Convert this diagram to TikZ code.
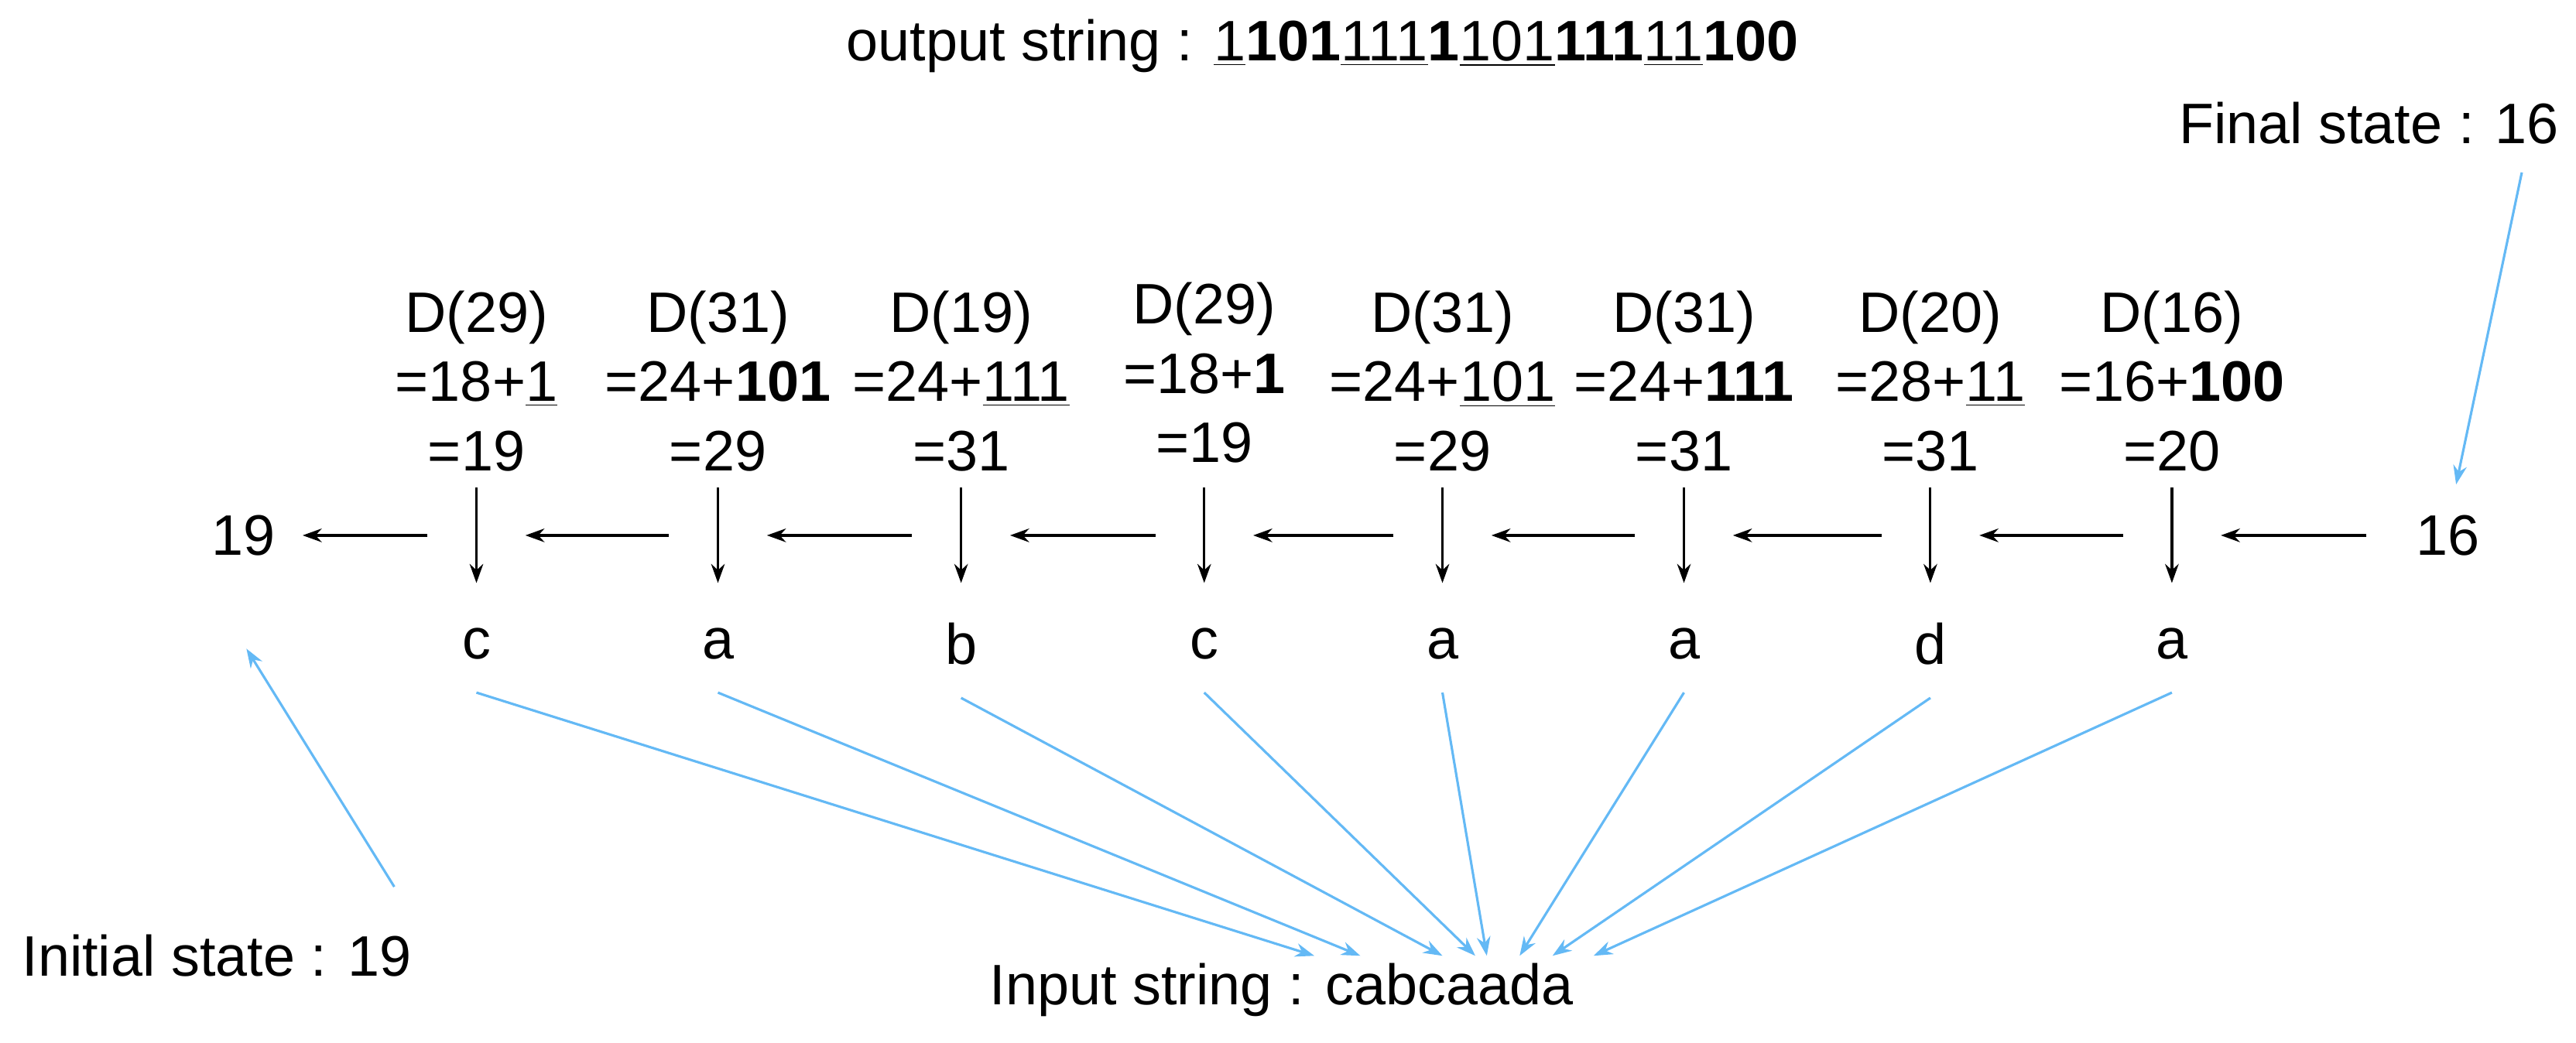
\documentclass[tikz,border=0pt]{standalone}
\usepackage{fontspec}
\setmainfont{Liberation Sans}
\usetikzlibrary{arrows.meta}
\begin{document}
\begin{tikzpicture}[x=0.02122cm,y=-0.02122cm,
  txt/.style={font=\fontsize{21}{25.5}\selectfont,inner sep=0pt,align=center},
  blk/.style={-{Stealth[length=7pt,width=5pt]},line width=0.9pt},
  blu/.style={-{Stealth[length=7pt,width=5pt]},line width=0.9pt,draw={rgb,255:red,100;green,185;blue,245}}]
\useasboundingbox (0,0) rectangle (1568,635);
\newcommand{\U}[1]{\underline{#1}}
\newcommand{\B}[1]{\textbf{#1}}
\node[txt] (out) at (805,28) {output string : \U{1}\B{101}\U{111}\B{1}\U{101}\B{111}\U{11}\B{100}};
\node[txt] (fin) at (1442,75) {Final state : 16};
\node[txt] (ini) at (132,582) {Initial state : 19};
\node[txt] (inp) at (780,603) {Input string : cabcaada};
\node[txt] (s19) at (148,326) {19};
\node[txt] (s16) at (1490,326) {16};
\foreach \i/\x/\dy/\t/\l in {
 1/290/0/{D(29)\\=18+\U{1}\\=19}/c,
 2/437/0/{D(31)\\=24+\B{101}\\=29}/a,
 3/585/0/{D(19)\\=24+\U{111}\\=31}/b,
 4/733/-5/{D(29)\\=18+\B{1}\\=19}/c,
 5/878/0/{D(31)\\=24+\U{101}\\=29}/a,
 6/1025/0/{D(31)\\=24+\B{111}\\=31}/a,
 7/1175/0/{D(20)\\=28+\U{11}\\=31}/d,
 8/1322/0/{D(16)\\=16+\B{100}\\=20}/a}{
  \node[txt] (d\i) at (\x,232+\dy) {\t};
  \coordinate (t\i) at (\x,297);
  \coordinate (b\i) at (\x,355);
  \node[txt] (l\i) at (\x,392) {\l};
  \draw[blk] (t\i) -- (b\i);
}
\draw[blk] ([xshift=-18]s16.west) -- ([xshift=18]b8 |- s16);
\foreach \a/\b in {8/7,7/6,6/5,5/4,4/3,3/2,2/1}{
  \draw[blk] ([xshift=-18]b\a |- s16) -- ([xshift=18]b\b |- s16);
}
\draw[blk] ([xshift=-18]b1 |- s16) -- ([xshift=10]s19.east);
\foreach \i/\tx in {1/800,2/828,3/878,4/898,5/905,6/925,7/945,8/970}{
  \draw[blu] ([yshift=-12]l\i.south) -- (\tx,582);
}
\draw[blu] (240,540) -- (150,395);
\draw[blu] (1535,105) -- (1495,295);
\end{tikzpicture}
\end{document}
